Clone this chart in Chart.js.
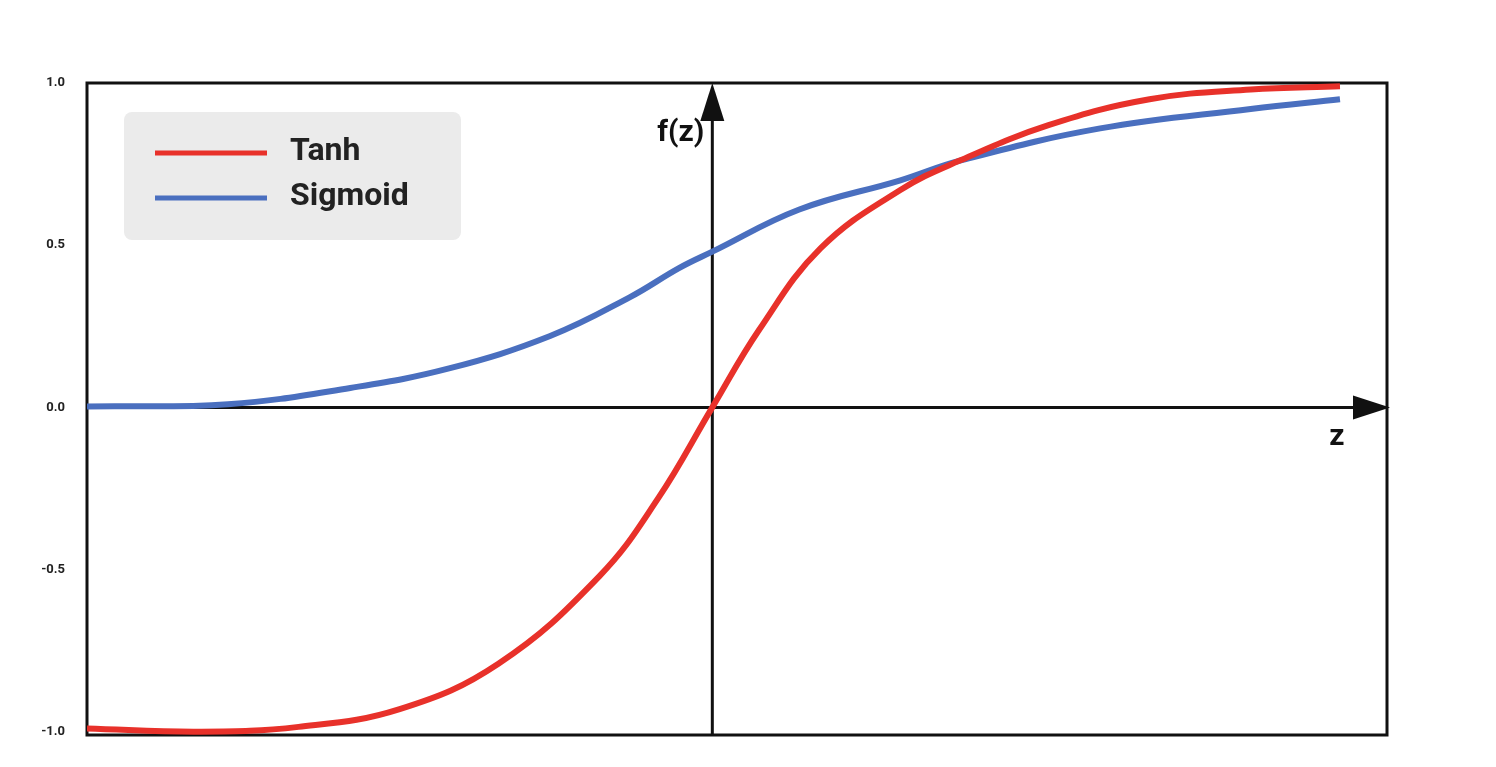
<!DOCTYPE html>
<html><head><meta charset="utf-8">
<script src="https://cdn.jsdelivr.net/npm/chart.js@4"></script>
<style>html,body{margin:0;padding:0;background:#fff}#w{width:1496px;height:767px}</style>
</head><body><div id="w"><canvas id="c"></canvas></div>
<script>
const zSig = [-2.66,-2.06,-1.54,-1.12,-0.69,-0.35,-0.14,0,0.37,0.8,1.05,1.65,2.29,2.67];
const sigmoidVals = [0.003,0.01,0.06,0.12,0.22,0.34,0.43,0.48,0.61,0.70,0.76,0.86,0.92,0.95];
const zTanh = [-2.66,-2.18,-1.76,-1.33,-0.91,-0.48,-0.23,0,0.2,0.46,0.8,1.05,1.43,1.86,2.29,2.67];
const tanhVals = [-0.99,-1.0,-0.985,-0.93,-0.79,-0.52,-0.28,0,0.24,0.49,0.67,0.76,0.87,0.95,0.98,0.99];
const yTicks = [1.0,0.5,0.0,-0.5,-1.0];
const RED='#e8312a', BLUE='#4a6fbf';
const deco = {id:'deco',
 beforeDatasetsDraw(ch){const c=ch.ctx,a=ch.chartArea,x=ch.scales.x,y=ch.scales.y;
  const x0=x.getPixelForValue(0), y0=y.getPixelForValue(0);
  c.save();c.strokeStyle='#111';c.fillStyle='#111';c.lineWidth=3;
  c.strokeRect(a.left,a.top,a.right-a.left,a.bottom-a.top);
  c.beginPath();c.moveTo(x0,a.bottom);c.lineTo(x0,a.top+20);c.stroke();
  c.beginPath();c.moveTo(x0,a.top);c.lineTo(x0-12,a.top+38);c.lineTo(x0+12,a.top+38);c.closePath();c.fill();
  c.beginPath();c.moveTo(a.left,y0);c.lineTo(a.right-20,y0);c.stroke();
  c.beginPath();c.moveTo(a.right+3,y0);c.lineTo(a.right-34,y0-12);c.lineTo(a.right-34,y0+12);c.closePath();c.fill();
  c.font='bold 30px Roboto';c.textAlign='right';c.textBaseline='middle';
  c.fillText('f(z)',x0-8,133);c.textAlign='center';c.fillText('z',a.right-50,y0+30);
  c.restore();},
 afterDatasetsDraw(ch){const c=ch.ctx;c.save();
  c.fillStyle='#ebebeb';c.beginPath();c.roundRect(124,112,337,128,8);c.fill();
  c.lineWidth=5;c.strokeStyle=RED;c.beginPath();c.moveTo(155,153);c.lineTo(267,153);c.stroke();
  c.strokeStyle=BLUE;c.beginPath();c.moveTo(155,198);c.lineTo(267,198);c.stroke();
  c.fillStyle='#222';c.font='bold 32px Roboto';c.textBaseline='middle';
  c.fillText('Tanh',290,152);c.fillText('Sigmoid',290,197);c.restore();}
};
new Chart(document.getElementById('c'),{type:'scatter',
 data:{datasets:[
  {data:zTanh.map((z,i)=>({x:z,y:tanhVals[i]})),showLine:true,borderColor:RED,borderWidth:6,pointRadius:0,tension:0.4},
  {data:zSig.map((z,i)=>({x:z,y:sigmoidVals[i]})),showLine:true,borderColor:BLUE,borderWidth:6,pointRadius:0,tension:0.4}]},
 options:{responsive:true,maintainAspectRatio:false,animation:false,
  layout:{padding:{top:83,bottom:32,right:109,left:0}},
  plugins:{legend:{display:false},tooltip:{enabled:false}},
  scales:{x:{type:'linear',min:-2.66,max:2.87,display:false},
   y:{min:-1.01,max:1.0,grid:{display:false},border:{display:false},
    afterFit(s){s.width=87;},
    afterBuildTicks(s){s.ticks=yTicks.map(v=>({value:v}));},
    ticks:{color:'#222',font:{family:'Roboto',size:13,weight:'bold'},padding:14,callback:v=>v.toFixed(1)}}}},
 plugins:[deco]});
</script></body></html>
